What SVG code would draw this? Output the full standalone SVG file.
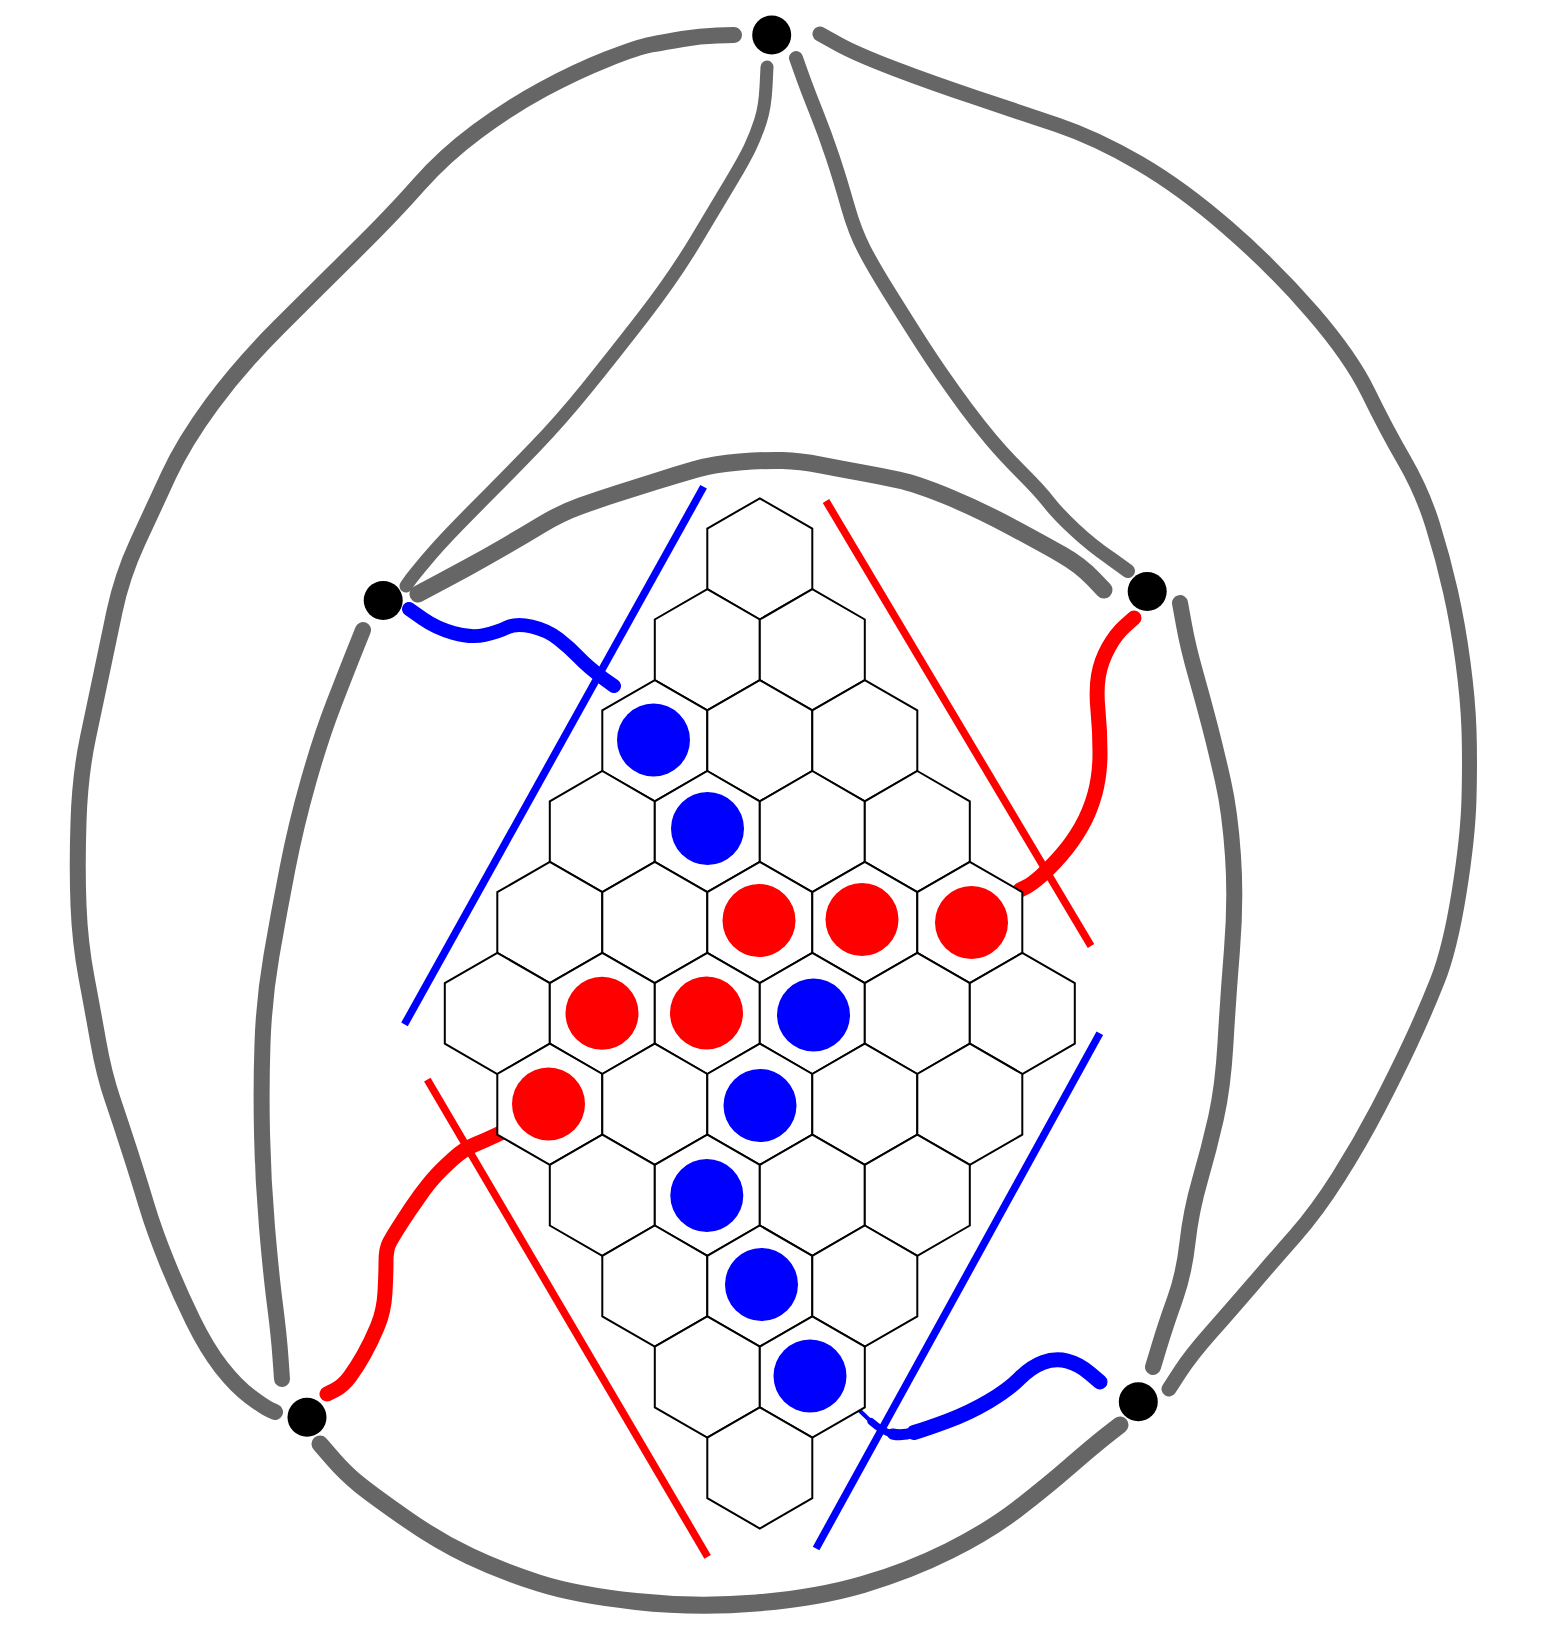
<svg xmlns="http://www.w3.org/2000/svg" xmlns:xlink="http://www.w3.org/1999/xlink" width="1564" height="1628" viewBox="0 0 1564 1628">
<style>
.g{fill:none;stroke:#666666;stroke-linecap:round;stroke-linejoin:round}
.hx{fill:#ffffff;stroke:#000000;stroke-width:2;stroke-linejoin:miter}
.rs{fill:#ff0000}
.bs{fill:#0000ff}
.rl{fill:none;stroke:#ff0000;stroke-width:7.5;stroke-linecap:butt}
.bl{fill:none;stroke:#0000ff;stroke-width:7.5;stroke-linecap:butt}
.rw{fill:none;stroke:#ff0000;stroke-linecap:round;stroke-linejoin:round}
.bw{fill:none;stroke:#0000ff;stroke-linecap:round;stroke-linejoin:round}
.dot{fill:#000000}
</style>
<defs>
<polygon id="hex" points="0,-60.6 52.5,-30.3 52.5,30.3 0,60.6 -52.5,30.3 -52.5,-30.3"/>
</defs>
<rect width="1564" height="1628" fill="#ffffff"/>

<g id="connectors">
  <path id="edge-top-left-outer" class="g" stroke-width="16" d="M734,35 L717,35.5 Q700,36 682.5,39 Q665,42 651.5,44.5 Q638,47 607.5,59 Q577,71 543.5,89 Q510,107 477,131.5 Q444,156 418.5,185 Q393,214 354.5,252 Q316,290 278,328 Q240,366 212,404 Q184,442 168.5,475.5 Q153,509 137.5,542.5 Q122,576 114.5,611.5 Q107,647 101.5,673.5 Q96,700 88,737.5 Q80,775 78.5,821.5 Q77,868 78.5,905.5 Q80,943 86.5,977.5 Q93,1012 98.5,1043 Q104,1074 112.5,1099 Q121,1124 130,1152 Q139,1180 146.5,1205 Q154,1230 166.5,1261 Q179,1292 193,1320.5 Q207,1349 221.5,1367.5 Q236,1386 250,1396.5 Q264,1407 269.5,1409.5 L275,1412"/>
  <path id="edge-top-left-inner" class="g" stroke-width="13" d="M767,67 L766,87 Q765,107 760.5,121 Q756,135 750,147.5 Q744,160 732,180 Q720,200 697,238.5 Q674,277 643,317 Q612,357 586.5,388.5 Q561,420 535.5,446.5 Q510,473 492,491 Q474,509 456.5,527 Q439,545 426,560.5 Q413,576 409.5,581 L406,586"/>
  <path id="edge-left-right-inner" class="g" stroke-width="17" d="M418,594 L434,585.5 Q450,577 467.5,567.5 Q485,558 504,547 Q523,536 542,524.5 Q561,513 580.5,506 Q600,499 619,493 Q638,487 657,481 Q676,475 695,469.5 Q714,464 739.5,462 Q765,460 782.5,460.5 Q800,461 820.5,465 Q841,469 860.5,472.5 Q880,476 898.5,480 Q917,484 947.5,496.5 Q978,509 1011.5,527 Q1045,545 1062.5,555 Q1080,565 1093,578.5 L1104,590"/>
  <path id="edge-top-right-inner" class="g" stroke-width="14" d="M796,58 L801.5,73.5 Q807,89 816,111.5 Q825,134 832.5,156.5 Q840,179 847.5,205.5 Q855,232 864.5,250 Q874,268 888,290.5 Q902,313 916,335 Q930,357 942.5,375 Q955,393 966.5,408.5 Q978,424 991,439.5 Q1004,455 1022,473 Q1040,491 1048.5,502 Q1057,513 1074,529 Q1091,545 1110,558 L1128,571"/>
  <path id="edge-top-right-outer" class="g" stroke-width="15" d="M820,34 L838,44 Q856,54 894,68.5 Q932,83 975.5,97.5 Q1019,112 1057.5,125 Q1096,138 1139,163 Q1182,188 1228,228 Q1274,268 1312.5,312.5 Q1351,357 1368.5,393 Q1386,429 1404,460 Q1422,491 1432.5,524.5 Q1443,558 1450.5,591.5 Q1458,625 1463,662.5 Q1468,700 1469,730 Q1470,760 1469,798.5 Q1468,837 1459,893 Q1450,949 1437.5,980.5 Q1425,1012 1410.5,1043 Q1396,1074 1378,1108.5 Q1360,1143 1338.5,1177 Q1317,1211 1295,1236 Q1273,1261 1251.5,1286 Q1230,1311 1210.5,1333 Q1191,1355 1180,1372 L1169,1389"/>
  <path id="edge-right-bottomright" class="g" stroke-width="16" d="M1180,603 L1184,625 Q1188,647 1195.5,673.5 Q1203,700 1209.5,725 Q1216,750 1223,781 Q1230,812 1233,856 Q1236,900 1232,949.5 Q1228,999 1225.5,1043 Q1223,1087 1216,1118 Q1209,1149 1200,1180 Q1191,1211 1187.5,1242.5 Q1184,1274 1175,1299 Q1166,1324 1159.5,1345.5 L1153,1367"/>
  <path id="edge-left-bottomleft" class="g" stroke-width="16" d="M363,630 L355,650 Q347,670 334,703.5 Q321,737 308.5,781 Q296,825 287.5,868.5 Q279,912 271.5,955.5 Q264,999 262.5,1043 Q261,1087 262,1133.5 Q263,1180 267,1227 Q271,1274 275,1305 Q279,1336 280.5,1358 L282,1379"/>
  <path id="edge-bottom" class="g" stroke-width="17" d="M320,1444 L333,1459 Q346,1474 360.5,1485.5 Q375,1497 406.5,1519 Q438,1541 469.5,1556 Q501,1571 538.5,1583 Q576,1595 636,1601.5 Q696,1608 756.5,1603 Q817,1598 863,1584.5 Q909,1571 949,1551 Q989,1531 1017.5,1509 Q1046,1487 1069,1467 Q1092,1447 1106.5,1435.5 L1120,1425"/>
  <path id="link-blue-left" class="bw" stroke-width="14" d="M409,609 L422.5,618.5 Q436,628 453.5,633 Q471,638 484.5,635 Q498,632 507,627.5 Q516,623 531.5,626.5 Q547,630 558.5,639 Q570,648 579,657.5 Q588,667 603.5,678.5 L614,686"/>
  <path id="link-red-right" class="rw" stroke-width="15" d="M1134,618 L1125,626 Q1116,634 1108.5,647.5 Q1101,661 1098.5,675.5 Q1096,690 1098,710.5 Q1100,731 1100,753 Q1100,775 1095,793.5 Q1090,812 1081,827.5 Q1072,843 1061,855.5 Q1050,868 1041,876 Q1032,884 1026,887 L1020,890"/>
  <path id="link-red-left" class="rw" stroke-width="15" d="M327,1394 L335,1390 Q343,1386 350,1376.5 Q357,1367 364,1354.5 Q371,1342 377.5,1326.5 Q384,1311 385,1292.5 Q386,1274 386,1261.5 Q386,1249 389.5,1242.5 Q393,1236 402,1222 Q411,1208 420,1195.5 Q429,1183 436,1175.5 Q443,1168 453.5,1158.5 Q464,1149 475,1144.5 Q486,1140 497.5,1134.5 L506,1130.5"/>
  <g id="link-blue-right">
    <path class="bw" stroke-width="15" d="M1100,1382 L1090,1373.5 Q1079,1364 1067,1361 Q1055,1358 1043,1362.5 Q1031,1367 1019.5,1378.5 Q1008,1390 988.5,1401.5 Q969,1413 947.5,1421 Q926,1429 914,1432.5"/>
    <path class="bw" stroke-width="11" d="M914,1432.5 Q902,1436 892.5,1434"/>
    <path class="bw" stroke-width="7" d="M892.5,1434 Q883,1432 871,1421.5"/>
    <path class="bw" stroke-width="4" d="M871,1421.5 L859,1410"/>
  </g>
</g>

<g id="board">
  <use xlink:href="#hex" class="hx" x="759.8" y="558.9"/>
  <use xlink:href="#hex" class="hx" x="707.3" y="649.8"/>
  <use xlink:href="#hex" class="hx" x="812.3" y="649.8"/>
  <use xlink:href="#hex" class="hx" x="654.8" y="740.7"/>
  <use xlink:href="#hex" class="hx" x="759.8" y="740.7"/>
  <use xlink:href="#hex" class="hx" x="864.8" y="740.7"/>
  <use xlink:href="#hex" class="hx" x="602.3" y="831.6"/>
  <use xlink:href="#hex" class="hx" x="707.3" y="831.6"/>
  <use xlink:href="#hex" class="hx" x="812.3" y="831.6"/>
  <use xlink:href="#hex" class="hx" x="917.3" y="831.6"/>
  <use xlink:href="#hex" class="hx" x="549.8" y="922.5"/>
  <use xlink:href="#hex" class="hx" x="654.8" y="922.5"/>
  <use xlink:href="#hex" class="hx" x="759.8" y="922.5"/>
  <use xlink:href="#hex" class="hx" x="864.8" y="922.5"/>
  <use xlink:href="#hex" class="hx" x="969.8" y="922.5"/>
  <use xlink:href="#hex" class="hx" x="497.3" y="1013.4"/>
  <use xlink:href="#hex" class="hx" x="602.3" y="1013.4"/>
  <use xlink:href="#hex" class="hx" x="707.3" y="1013.4"/>
  <use xlink:href="#hex" class="hx" x="812.3" y="1013.4"/>
  <use xlink:href="#hex" class="hx" x="917.3" y="1013.4"/>
  <use xlink:href="#hex" class="hx" x="1022.3" y="1013.4"/>
  <use xlink:href="#hex" class="hx" x="549.8" y="1104.3"/>
  <use xlink:href="#hex" class="hx" x="654.8" y="1104.3"/>
  <use xlink:href="#hex" class="hx" x="759.8" y="1104.3"/>
  <use xlink:href="#hex" class="hx" x="864.8" y="1104.3"/>
  <use xlink:href="#hex" class="hx" x="969.8" y="1104.3"/>
  <use xlink:href="#hex" class="hx" x="602.3" y="1195.2"/>
  <use xlink:href="#hex" class="hx" x="707.3" y="1195.2"/>
  <use xlink:href="#hex" class="hx" x="812.3" y="1195.2"/>
  <use xlink:href="#hex" class="hx" x="917.3" y="1195.2"/>
  <use xlink:href="#hex" class="hx" x="654.8" y="1286.1"/>
  <use xlink:href="#hex" class="hx" x="759.8" y="1286.1"/>
  <use xlink:href="#hex" class="hx" x="864.8" y="1286.1"/>
  <use xlink:href="#hex" class="hx" x="707.3" y="1377"/>
  <use xlink:href="#hex" class="hx" x="812.3" y="1377"/>
  <use xlink:href="#hex" class="hx" x="759.8" y="1467.9"/>
</g>

<g id="stones">
  <circle class="bs" cx="653.5" cy="740" r="36.5"/>
  <circle class="bs" cx="707.5" cy="828.5" r="36.5"/>
  <circle class="rs" cx="759" cy="920.5" r="36.5"/>
  <circle class="rs" cx="862" cy="919.5" r="36.5"/>
  <circle class="rs" cx="971.5" cy="922.5" r="36.5"/>
  <circle class="rs" cx="602" cy="1013.3" r="36.5"/>
  <circle class="rs" cx="706.5" cy="1013" r="36.5"/>
  <circle class="bs" cx="813.5" cy="1015" r="36.5"/>
  <circle class="rs" cx="548.5" cy="1104" r="36.5"/>
  <circle class="bs" cx="760" cy="1105.5" r="36.5"/>
  <circle class="bs" cx="706.8" cy="1195.5" r="36.5"/>
  <circle class="bs" cx="761.5" cy="1284.5" r="36.5"/>
  <circle class="bs" cx="810" cy="1376" r="36.5"/>
</g>

<g id="borders">
  <line class="bl" x1="703.6" y1="486.8" x2="404.5" y2="1024.4"/>
  <line class="rl" x1="826" y1="501" x2="1091" y2="946"/>
  <line class="rl" x1="427.3" y1="1079.6" x2="707.6" y2="1556.8"/>
  <line class="bl" x1="1099.8" y1="1033.3" x2="816.1" y2="1548.5"/>
</g>

<g id="node-top"><circle class="dot" cx="771.7" cy="35" r="19.5"/></g>
<g id="node-left"><circle class="dot" cx="383.2" cy="600.4" r="19.5"/></g>
<g id="node-right"><circle class="dot" cx="1147.2" cy="591.5" r="19.5"/></g>
<g id="node-bottom-left"><circle class="dot" cx="307" cy="1417.2" r="19.5"/></g>
<g id="node-bottom-right"><circle class="dot" cx="1138.3" cy="1401.7" r="19.5"/></g>
</svg>
